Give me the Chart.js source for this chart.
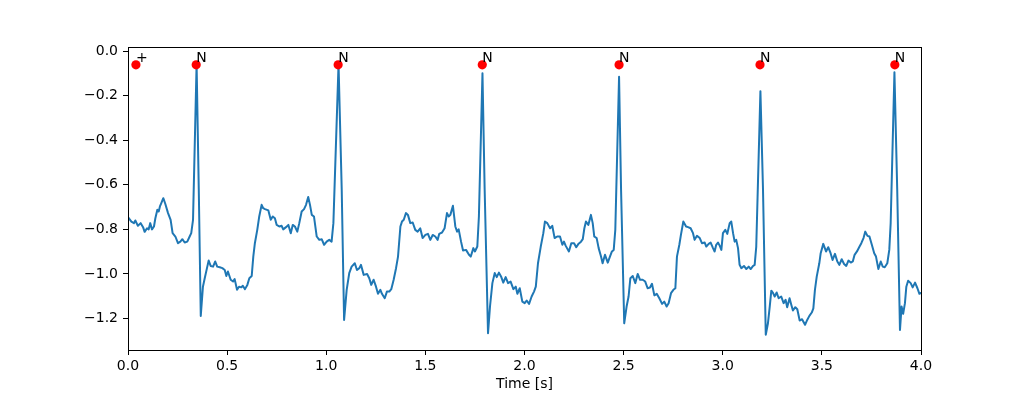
<!DOCTYPE html>
<html>
<head>
<meta charset="utf-8">
<title>ECG beats</title>
<script src="https://cdn.jsdelivr.net/npm/chart.js@4.4.0/dist/chart.umd.min.js"></script>
<style>
    body { margin: 0; background: #fff; }
    #wrap { width: 1023px; height: 393px; }
</style>
</head>
<body>
<div id="wrap"><canvas id="ecg-chart" width="1023" height="393"></canvas></div>
<script>
// Signal samples (time in s, amplitude)
const time = [
    0.000, 0.017, 0.030, 0.037, 0.050, 0.064, 0.076, 0.084, 0.096, 0.104,
    0.112, 0.121, 0.131, 0.138, 0.148, 0.155, 0.161, 0.168, 0.178, 0.188,
    0.202, 0.215, 0.225, 0.239, 0.252, 0.264, 0.274, 0.286, 0.299, 0.311,
    0.319, 0.328, 0.346, 0.357, 0.367, 0.378, 0.387, 0.400, 0.407, 0.417,
    0.429, 0.440, 0.450, 0.463, 0.476, 0.488, 0.496, 0.504, 0.518, 0.530,
    0.538, 0.550, 0.560, 0.572,
    0.579, 0.590, 0.602, 0.612, 0.624, 0.632, 0.640, 0.652, 0.662, 0.674,
    0.682, 0.691, 0.708, 0.720, 0.730, 0.741, 0.750, 0.763, 0.775, 0.783,
    0.797, 0.809, 0.821, 0.831, 0.842, 0.854, 0.864, 0.876, 0.888, 0.898,
    0.909, 0.918, 0.927, 0.938, 0.952, 0.965, 0.977, 0.989, 1.002, 1.015,
    1.027, 1.036, 1.062, 1.078, 1.090, 1.103, 1.116, 1.128,
    1.144, 1.155, 1.167, 1.175, 1.189, 1.206, 1.217, 1.227, 1.239, 1.251,
    1.261, 1.273, 1.281, 1.295, 1.306, 1.318, 1.328, 1.340, 1.352, 1.362,
    1.374, 1.382, 1.391, 1.402, 1.412, 1.424, 1.436, 1.449, 1.461, 1.474,
    1.486, 1.500, 1.513, 1.525, 1.537, 1.550, 1.562, 1.570, 1.584, 1.597,
    1.609, 1.618, 1.626, 1.639, 1.651, 1.660, 1.668, 1.680, 1.690, 1.705,
    1.720, 1.729, 1.742, 1.750, 1.762, 1.770, 1.788, 1.799, 1.816, 1.826,
    1.838, 1.850, 1.860, 1.871, 1.883, 1.893, 1.905, 1.917, 1.930, 1.944,
    1.956, 1.964, 1.976, 1.989, 2.001, 2.011, 2.023, 2.036, 2.048, 2.057,
    2.068, 2.082, 2.095, 2.103, 2.115, 2.129, 2.140, 2.152, 2.165, 2.179,
    2.191, 2.199, 2.208, 2.224, 2.236, 2.250, 2.261, 2.273,
    2.285, 2.294, 2.302, 2.310, 2.322, 2.335, 2.344, 2.352, 2.364, 2.374,
    2.386, 2.394, 2.406, 2.420, 2.431, 2.441, 2.450, 2.458, 2.477, 2.487,
    2.503, 2.515, 2.525, 2.534, 2.546, 2.559, 2.571, 2.583, 2.596, 2.609,
    2.621, 2.633, 2.643, 2.655, 2.667, 2.680, 2.694, 2.705, 2.717, 2.727,
    2.739, 2.751, 2.761, 2.769, 2.781, 2.789, 2.801, 2.815,
    2.825, 2.838, 2.850, 2.858, 2.870, 2.884, 2.895, 2.909, 2.917, 2.929,
    2.939, 2.951, 2.959, 2.967, 2.976, 2.985, 2.993, 3.001, 3.013, 3.023,
    3.035, 3.043, 3.052, 3.060, 3.068, 3.077, 3.085, 3.094, 3.107, 3.119,
    3.131, 3.141, 3.153, 3.161, 3.169, 3.190, 3.203, 3.217, 3.228, 3.237,
    3.245, 3.254, 3.262, 3.272, 3.282, 3.295, 3.307, 3.317, 3.325, 3.337,
    3.346, 3.354, 3.366, 3.376, 3.388, 3.400,
    3.415, 3.426, 3.437, 3.449, 3.457, 3.465, 3.474, 3.487, 3.494, 3.507,
    3.521, 3.532, 3.544, 3.554, 3.566, 3.578, 3.588, 3.600, 3.612, 3.623,
    3.634, 3.646, 3.656, 3.665, 3.677, 3.690, 3.699, 3.710, 3.719, 3.730,
    3.740, 3.752, 3.764, 3.773, 3.785, 3.797, 3.807, 3.817, 3.830, 3.840,
    3.847, 3.866, 3.880, 3.894, 3.902, 3.910, 3.919, 3.926, 3.935, 3.948,
    3.958, 3.970, 3.982, 3.992, 4.000
];

const ecg = [
    -0.745, -0.765, -0.772, -0.760, -0.784, -0.772, -0.790, -0.811, -0.795, -0.800,
    -0.772, -0.800, -0.787, -0.750, -0.712, -0.720, -0.697, -0.682, -0.660, -0.685,
    -0.727, -0.757, -0.817, -0.832, -0.862, -0.855, -0.844, -0.859, -0.855, -0.832,
    -0.817, -0.757, -0.060, -0.620, -1.188, -1.057, -1.019, -0.967, -0.940, -0.964,
    -0.967, -0.944, -0.967, -0.970, -0.974, -0.982, -1.009, -0.989, -1.026, -1.034,
    -1.023, -1.071, -1.057, -1.060,
    -1.053, -1.068, -1.049, -1.019, -1.009, -0.922, -0.862, -0.802, -0.742, -0.690,
    -0.705, -0.709, -0.715, -0.757, -0.742, -0.750, -0.780, -0.787, -0.784, -0.800,
    -0.790, -0.780, -0.817, -0.780, -0.787, -0.810, -0.772, -0.720, -0.709, -0.690,
    -0.655, -0.690, -0.735, -0.742, -0.832, -0.847, -0.844, -0.869, -0.855, -0.847,
    -0.855, -0.772, -0.060, -0.620, -1.206, -1.071, -0.996, -0.967,
    -0.952, -0.982, -0.974, -0.959, -1.004, -1.000, -1.019, -1.049, -1.026, -1.057,
    -1.089, -1.071, -1.089, -1.109, -1.079, -1.079, -1.068, -1.026, -0.974, -0.922,
    -0.787, -0.765, -0.757, -0.727, -0.735, -0.772, -0.769, -0.802, -0.810, -0.795,
    -0.839, -0.825, -0.820, -0.847, -0.825, -0.832, -0.847, -0.820, -0.814, -0.795,
    -0.727, -0.742, -0.735, -0.694, -0.787, -0.810, -0.800, -0.855, -0.895, -0.892,
    -0.914, -0.922, -0.884, -0.899, -0.877, -0.742, -0.100, -0.620, -1.266, -1.146,
    -1.041, -0.996, -1.014, -0.994, -1.014, -1.039, -1.014, -1.041, -1.034, -1.068,
    -1.057, -1.089, -1.064, -1.124, -1.131, -1.119, -1.134, -1.101, -1.079, -1.057,
    -0.952, -0.877, -0.817, -0.765, -0.772, -0.795, -0.784, -0.839, -0.832, -0.832,
    -0.869, -0.855, -0.874, -0.899, -0.862, -0.862, -0.880, -0.864,
    -0.855, -0.844, -0.795, -0.765, -0.780, -0.735, -0.772, -0.832, -0.839, -0.884,
    -0.922, -0.952, -0.914, -0.949, -0.922, -0.899, -0.892, -0.802, -0.115, -0.620,
    -1.221, -1.146, -1.101, -1.019, -1.009, -1.041, -1.000, -1.026, -1.026, -1.034,
    -1.064, -1.061, -1.044, -1.096, -1.089, -1.109, -1.134, -1.124, -1.146, -1.131,
    -1.086, -1.071, -1.064, -0.922, -0.869, -0.825, -0.765, -0.787,
    -0.790, -0.795, -0.817, -0.847, -0.829, -0.839, -0.862, -0.859, -0.877, -0.865,
    -0.859, -0.884, -0.899, -0.869, -0.859, -0.874, -0.892, -0.817, -0.802, -0.820,
    -0.772, -0.765, -0.817, -0.855, -0.847, -0.884, -0.959, -0.974, -0.964, -0.978,
    -0.967, -0.978, -0.964, -0.959, -0.877, -0.180, -0.620, -1.273, -1.221, -1.146,
    -1.075, -1.086, -1.101, -1.083, -1.109, -1.101, -1.131, -1.116, -1.149, -1.109,
    -1.139, -1.164, -1.149, -1.158, -1.209, -1.203,
    -1.228, -1.206, -1.188, -1.173, -1.154, -1.071, -1.012, -0.952, -0.907, -0.865,
    -0.899, -0.880, -0.907, -0.937, -0.910, -0.944, -0.959, -0.934, -0.955, -0.964,
    -0.940, -0.949, -0.944, -0.914, -0.899, -0.877, -0.862, -0.839, -0.810, -0.829,
    -0.832, -0.869, -0.907, -0.922, -0.978, -0.944, -0.967, -0.970, -0.952, -0.892,
    -0.772, -0.095, -0.620, -1.251, -1.146, -1.179, -1.131, -1.057, -1.030, -1.041,
    -1.060, -1.039, -1.064, -1.089, -1.085
];

// Beat annotations
const beatTime = [0.040, 0.344, 1.060, 1.787, 2.477, 3.188, 3.868];
const beatLevel = [-0.062, -0.062, -0.062, -0.062, -0.062, -0.062, -0.062];
const beatSymbol = ['+', 'N', 'N', 'N', 'N', 'N', 'N'];

const xTicks = [0.0, 0.5, 1.0, 1.5, 2.0, 2.5, 3.0, 3.5, 4.0];
const yTicks = [0.0, -0.2, -0.4, -0.6, -0.8, -1.0, -1.2];

if (time.length !== ecg.length) console.error('length mismatch', time.length, ecg.length);

const FONT = { family: "'DejaVu Sans', sans-serif", size: 14 };

function fmt(v) {
    const s = Math.abs(v) < 1e-9 ? '0.0' : v.toFixed(1);
    return s.replace('-', '\u2212');
}

// Full box around the plot area, like matplotlib spines
const frame = {
    id: 'frame',
    afterDatasetsDraw(chart) {
        const { ctx, chartArea: a } = chart;
        ctx.save();
        ctx.strokeStyle = '#000';
        ctx.lineWidth = 1;
        ctx.strokeRect(Math.round(a.left) + 0.5, Math.round(a.top) + 0.5,
            Math.round(a.right - a.left), Math.round(a.bottom - a.top));
        ctx.restore();
    }
};

const beatLabels = {
    id: 'beatLabels',
    afterDatasetsDraw(chart) {
        const { ctx } = chart;
        const xs = chart.scales.x, ys = chart.scales.y;
        ctx.save();
        ctx.fillStyle = '#000';
        ctx.font = `${FONT.size}px ${FONT.family}`;
        ctx.textAlign = 'left';
        ctx.textBaseline = 'alphabetic';
        beatTime.forEach((t, i) => {
            ctx.fillText(beatSymbol[i], xs.getPixelForValue(t), ys.getPixelForValue(beatLevel[i]) - 3);
        });
        ctx.restore();
    }
};

Chart.defaults.color = '#000';
Chart.defaults.font = FONT;

new Chart(document.getElementById('ecg-chart'), {
    type: 'line',
    data: {
        datasets: [
            {
                type: 'scatter',
                data: beatTime.map((t, i) => ({ x: t, y: beatLevel[i] })),
                backgroundColor: '#ff0000',
                borderColor: '#ff0000',
                pointRadius: 4.6,
                pointBorderWidth: 0,
                showLine: false
            },
            {
                data: time.map((t, i) => ({ x: t, y: ecg[i] })),
                borderColor: '#1f77b4',
                borderWidth: 2,
                borderJoinStyle: 'round',
                borderCapStyle: 'round',
                pointRadius: 0,
                tension: 0,
                fill: false
            }
        ]
    },
    options: {
        responsive: false,
        animation: false,
        layout: { padding: { top: 47, right: 102, left: 0, bottom: 0 } },
        plugins: { legend: { display: false }, tooltip: { enabled: false } },
        scales: {
            x: {
                type: 'linear',
                min: 0,
                max: 4,
                afterBuildTicks: s => { s.ticks = xTicks.map(v => ({ value: v })); },
                afterFit: s => { s.height = 43; },
                grid: { drawOnChartArea: false, tickLength: 5, tickColor: '#000' },
                border: { display: false },
                ticks: { padding: 3, maxRotation: 0, callback: v => fmt(v) },
                title: { display: true, text: 'Time [s]', padding: { top: 0, bottom: 0 } }
            },
            y: {
                min: -1.341,
                max: 0.018,
                afterBuildTicks: s => { s.ticks = yTicks.map(v => ({ value: v })); },
                afterFit: s => { s.width = 128; },
                grid: { drawOnChartArea: false, tickLength: 5, tickColor: '#000' },
                border: { display: false },
                ticks: { padding: 5, callback: v => fmt(v) }
            }
        }
    },
    plugins: [frame, beatLabels]
});
</script>
</body>
</html>
